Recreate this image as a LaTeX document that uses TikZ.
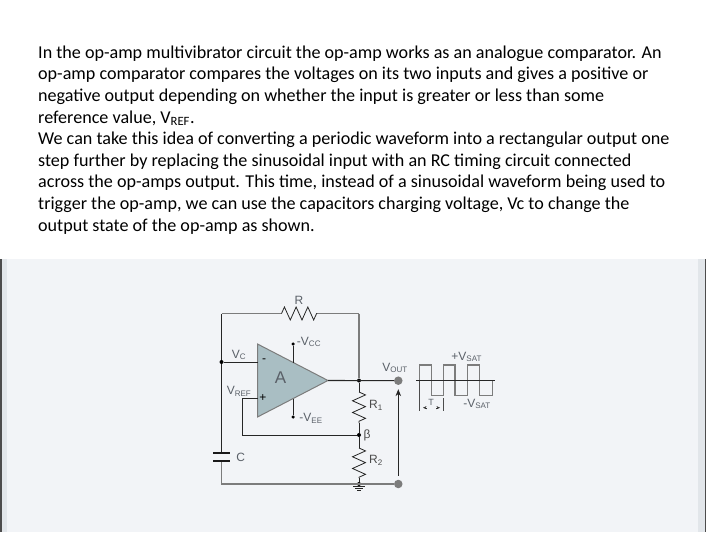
\documentclass[tikz,border=0pt]{standalone}
\usepackage{fontspec}
\setmainfont{Carlito}
\newfontfamily\labelfont{Liberation Sans}
\usetikzlibrary{decorations.pathmorphing}
\usetikzlibrary{arrows.meta}

\definecolor{panelbg}{HTML}{F2F4F7}
\definecolor{panelband}{HTML}{E2E6EA}
\definecolor{ampfill}{HTML}{A9BEC3}
\definecolor{wiregray}{HTML}{7C7C7C}
\definecolor{labelgray}{HTML}{5A6068}

\tikzset{
  lbl/.style={font=\labelfont\fontsize{12}{13}\selectfont,text=labelgray,inner sep=0pt},
  wire/.style={draw=black!85,line width=0.9pt},
  greywire/.style={draw=wiregray,line width=1.3pt},
  joint/.style={circle,fill=black,inner sep=0pt,minimum size=4pt},
  terminal/.style={circle,fill=wiregray,inner sep=0pt,minimum size=8.5pt},
  resistor/.style={draw=black!85,line width=0.8pt,decorate,
    decoration={zigzag,amplitude=6.5pt,segment length=11.7pt}},
}

\begin{document}
\begin{tikzpicture}[x=1pt,y=-1pt]
  \useasboundingbox (0,0) rectangle (720,540);
  \fill[white] (0,0) rectangle (720,540);

  % text on top
  \node[anchor=north west,align=left,inner sep=0pt,font=\fontsize{18.1}{21.6}\selectfont] (intro) at (38,45.5) {%
    In the op-amp multivibrator circuit the op-amp works as an analogue comparator. An\\
    op-amp comparator compares the voltages on its two inputs and gives a positive or\\
    negative output depending on whether the input is greater or less than some\\
    reference value, V\textsubscript{REF}.\\
    We can take this idea of converting a periodic waveform into a rectangular output one\\
    step further by replacing the sinusoidal input with an RC timing circuit connected\\
    across the op-amps output. This time, instead of a sinusoidal waveform being used to\\
    trigger the op-amp, we can use the capacitors charging voltage, Vc to change the\\
    output state of the op-amp as shown.};

  % panel
  \fill[panelbg] (0,259) rectangle (705,532);
  \fill[panelband] (2,259) rectangle (7,532);
  \fill[panelband] (698,259) rectangle (705,532);
  \draw[black!70,line width=1.2pt] (1,259) -- (1,532);
  \draw[black!70,line width=1pt] (705.5,259) -- (705.5,532);

  % op-amp
  \coordinate (ampa) at (257.5,344);
  \coordinate (ampb) at (257.5,417);
  \coordinate (out) at (328,380.5);
  \coordinate (inm) at (257.5,362);
  \coordinate (inp) at (257.5,398.5);
  \coordinate (vcctop) at (293,362.5);
  \coordinate (veetop) at (293,399);
  \fill[ampfill] (ampa) -- (out) -- (ampb) -- cycle;
  \draw[wiregray,line width=1pt] (ampa) -- (out) -- (ampb) -- cycle;

  % junctions and terminals
  \node[joint] (jc) at (221.5,362) {};
  \node[joint] (jout) at (359,380.5) {};
  \node[joint] (jbeta) at (359,435) {};
  \node[joint] (jgnd) at (359,484) {};
  \node[joint,minimum size=3.5pt] (jvcc) at (293,344) {};
  \node[joint,minimum size=3.5pt] (jvee) at (293,417) {};
  \node[terminal] (vout) at (398.3,380.7) {};
  \node[terminal] (vgnd) at (398.3,484) {};

  % feedback with R
  \coordinate (rl) at (281.5,313.5);
  \coordinate (rr) at (317.5,313.5);
  \coordinate (tl) at (221.5,313.5);
  \coordinate (tr) at (359,313.5);
  \draw[greywire,line width=0.9pt] (rl) -- (tl);
  \draw[wire] (tl) -- (jc);
  \draw[greywire,line width=0.9pt] (rr) -- (tr);
  \draw[greywire] (tr) -- (jout);
  \draw[resistor] (rl) -- (rr);

  % inputs and supplies
  \draw[wire] (jc) -- (inm);
  \coordinate (refa) at (242.3,398.5);
  \coordinate (refb) at (242.3,435);
  \draw[wire] (inp) -- (refa) -- (refb) -- (jbeta);
  \draw[wire] (jvcc) -- (vcctop);
  \draw[wire] (jvee) -- (veetop);

  % output
  \draw[wire,line width=1.1pt] (out) -- (vout);
  \draw[wire,-{Stealth[length=7pt,width=5.5pt]},shorten <=4pt,shorten >=4pt] (vgnd) -- (vout);

  % divider
  \coordinate (raa) at (359,392);
  \coordinate (rab) at (359,423);
  \coordinate (rba) at (359,448);
  \coordinate (rbb) at (359,478);
  \draw[wire] (jout) -- (raa);
  \draw[resistor] (raa) -- (rab);
  \draw[wire] (rab) -- (jbeta);
  \draw[wire] (jbeta) -- (rba);
  \draw[resistor] (rba) -- (rbb);
  \draw[wire] (rbb) -- (jgnd);

  % ground
  \coordinate (gnda) at (353,486.5);
  \coordinate (gndb) at (365,486.5);
  \coordinate (gndc) at (355,488.7);
  \coordinate (gndd) at (363,488.7);
  \coordinate (gnde) at (357,490.7);
  \coordinate (gndf) at (361,490.7);
  \draw[wire] (jgnd) -- (359,486.5);
  \draw[wire] (gnda) -- (gndb);
  \draw[wire] (gndc) -- (gndd);
  \draw[wire] (gnde) -- (gndf);

  % capacitor
  \coordinate (capt) at (221.5,452.7);
  \coordinate (capb) at (221.5,461);
  \coordinate (capc) at (221.5,484);
  \draw[wire] (jc) -- (capt);
  \draw[greywire] (capb) -- (capc) -- (vgnd);
  \draw[black!90,line width=1.8pt] ([xshift=-8.5pt]capt) -- ([xshift=8.5pt]capt);
  \draw[black!90,line width=1.8pt] ([xshift=-8.5pt]capb) -- ([xshift=8.5pt]capb);

  % waveform
  \coordinate (axa) at (416,380.7);
  \coordinate (axb) at (495,380.7);
  \draw[wiregray,line width=1.5pt] (419.7,380.7) -- (419.7,365) -- (431.3,365) -- (431.3,395.7)
    -- (443.7,395.7) -- (443.7,365) -- (455,365) -- (455,395.7) -- (467.3,395.7) -- (467.3,365)
    -- (479.7,365) -- (479.7,395.7) -- (492.3,395.7) -- (492.3,380.7);
  \draw[wire] (axa) -- (axb);
  \draw[black!70,line width=0.6pt] (419.7,381) -- (419.7,410.7);
  \draw[black!70,line width=0.6pt] (443.7,398) -- (443.7,410.7);
  \draw[black!80,-{Stealth[length=3.5pt,width=3pt]}] (427,407.7) -- (423,407.7);
  \draw[black!80,-{Stealth[length=3.5pt,width=3pt]}] (436,407.7) -- (440,407.7);

  % labels
  \node[lbl] (lr) at (299,300) {R};
  \node[lbl,font=\labelfont\fontsize{17}{18}\selectfont] (la) at (280.5,378) {A};
  \node[lbl,text=black] (lm) at (264,361) {-};
  \node[lbl,text=black] (lp) at (263,398.5) {+};
  \node[lbl] (lvc) at (239,355) {V\textsubscript{C}};
  \node[lbl] (lvref) at (239,391) {V\textsubscript{REF}};
  \node[lbl] (lvcc) at (309,342) {-V\textsubscript{CC}};
  \node[lbl] (lvee) at (311,418) {-V\textsubscript{EE}};
  \node[lbl] (lvout) at (395,368) {V\textsubscript{OUT}};
  \node[lbl,text=black!70] (lra) at (376,405.7) {R\textsubscript{1}};
  \node[lbl,text=black!70] (lrb) at (376,460.7) {R\textsubscript{2}};
  \node[lbl,text=black!70] (lbeta) at (367,435) {β};
  \node[lbl] (lc) at (240.7,457) {C};
  \node[lbl] (lsatp) at (466.7,357) {+V\textsubscript{SAT}};
  \node[lbl] (lsatm) at (477,404) {-V\textsubscript{SAT}};
  \node[lbl,font=\labelfont\fontsize{9}{10}\selectfont] (lt) at (431,402) {T};
\end{tikzpicture}
\end{document}
